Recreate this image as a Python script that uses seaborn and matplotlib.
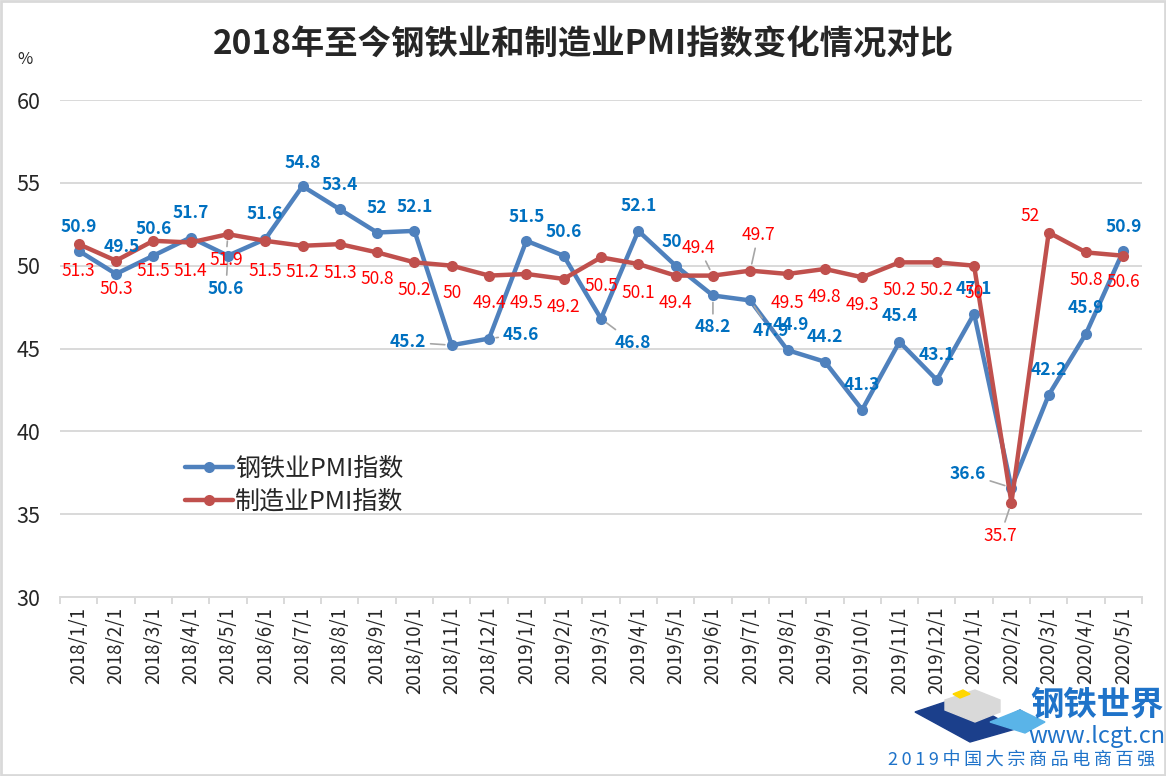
import numpy as np
import pandas as pd
import matplotlib.pyplot as plt
import seaborn as sns
from matplotlib.patches import Rectangle, Polygon

# data
months = ['2018/1/1', '2018/2/1', '2018/3/1', '2018/4/1', '2018/5/1', '2018/6/1',
          '2018/7/1', '2018/8/1', '2018/9/1', '2018/10/1', '2018/11/1', '2018/12/1',
          '2019/1/1', '2019/2/1', '2019/3/1', '2019/4/1', '2019/5/1', '2019/6/1',
          '2019/7/1', '2019/8/1', '2019/9/1', '2019/10/1', '2019/11/1', '2019/12/1',
          '2020/1/1', '2020/2/1', '2020/3/1', '2020/4/1', '2020/5/1']
steel_pmi = [50.9, 49.5, 50.6, 51.7, 50.6, 51.6, 54.8, 53.4, 52, 52.1, 45.2, 45.6,
             51.5, 50.6, 46.8, 52.1, 50, 48.2, 47.9, 44.9, 44.2, 41.3, 45.4, 43.1,
             47.1, 36.6, 42.2, 45.9, 50.9]
mfg_pmi = [51.3, 50.3, 51.5, 51.4, 51.9, 51.5, 51.2, 51.3, 50.8, 50.2, 50, 49.4,
           49.5, 49.2, 50.5, 50.1, 49.4, 49.4, 49.7, 49.5, 49.8, 49.3, 50.2, 50.2,
           50, 35.7, 52, 50.8, 50.6]
series_names = ['钢铁业PMI指数', '制造业PMI指数']

# label offsets in pixels (dx, dy)
steel_off = [(0, 24), (6, 27), (0, 27), (0, 25), (-2, -33), (0, 25), (0, 23), (0, 24),
             (0, 25), (0, 24), (-44, 3), (32, 4), (0, 24), (0, 24), (32, -24), (0, 25),
             (-4, 24), (0, -32), (21, -31), (3, 25), (0, 25), (0, 25), (0, 26), (0, 25),
             (0, 25), (-44, 14), (0, 25), (0, 26), (0, 24)]
mfg_off = [(0, -27), (0, -28), (0, -30), (0, -29), (-2, -26), (0, -30), (0, -26), (0, -29),
           (0, -27), (0, -28), (0, -27), (0, -27), (0, -29), (0, -28), (0, -29), (0, -29),
           (0, -27), (-14, 28), (8, 36), (0, -29), (0, -28), (0, -28), (0, -28), (0, -28),
           (0, -27), (-11, -33), (-19, 17), (0, -28), (0, -26)]
steel_leader = {4, 10, 11, 14, 17, 18, 25}
mfg_leader = {4, 17, 18, 25}

x = np.arange(len(months))
df = pd.DataFrame({
    'x': np.concatenate([x, x]),
    'value': steel_pmi + mfg_pmi,
    'series': [series_names[0]] * len(x) + [series_names[1]] * len(x),
})

sns.set_theme(style='white')
plt.rcParams['font.family'] = ['Noto Sans CJK SC', 'DejaVu Sans']

blue, red = '#4F81BD', '#C0504D'
fig = plt.figure(figsize=(11.66, 7.76), dpi=100)
ax = fig.add_axes([60 / 1166, 1 - 597 / 776, 1082 / 1166, 497 / 776])

sns.lineplot(data=df, x='x', y='value', hue='series', palette=[blue, red],
             marker='o', markersize=8, markeredgewidth=0, linewidth=3.2, ax=ax)

ax.set_xlim(-0.5, len(x) - 0.5)
ax.set_ylim(30, 60)
ax.set_yticks(range(30, 61, 5))
ax.yaxis.grid(True, color='#D9D9D9', lw=1.4)
ax.set_axisbelow(True)
for s in ['left', 'right', 'top']:
    ax.spines[s].set_visible(False)
ax.spines['bottom'].set_color('#D9D9D9')
ax.spines['bottom'].set_linewidth(1.4)
ax.set_xticks(x)
ax.set_xticklabels(months, rotation=90, fontsize=13.5)
ax.set_xticks(np.arange(-0.5, len(x), 1), minor=True)
ax.tick_params(axis='x', which='major', length=0, pad=7)
ax.tick_params(axis='x', which='minor', length=5, color='#D9D9D9', width=1.4, bottom=True)
ax.tick_params(axis='y', length=0, labelsize=15.5, pad=14)
ax.set_xlabel('')
ax.set_ylabel('')

leader = dict(arrowstyle='-', color='#A6A6A6', lw=1.2, shrinkA=1, shrinkB=5)
for i in x:
    ax.annotate(str(steel_pmi[i]), (i, steel_pmi[i]), xytext=steel_off[i],
                textcoords='offset pixels', ha='center', va='center',
                fontsize=12.5, fontweight='bold', color='#0070C0',
                arrowprops=leader if i in steel_leader else None)
    ax.annotate(str(mfg_pmi[i]), (i, mfg_pmi[i]), xytext=mfg_off[i],
                textcoords='offset pixels', ha='center', va='center',
                fontsize=12.5, color='#FF0000',
                arrowprops=leader if i in mfg_leader else None)

leg = ax.legend(loc='center left', bbox_to_anchor=(0.095, 0.225), frameon=False,
                fontsize=18, handlelength=1.9, handletextpad=0.1, labelspacing=0.25)

fig.text(0.5, 1 - 45 / 776, '2018年至今钢铁业和制造业PMI指数变化情况对比',
         ha='center', va='center', fontsize=24, fontweight='bold')
fig.text(25 / 1166, 1 - 60 / 776, '%', ha='center', va='center', fontsize=12)

# watermark logo
logo_blue = '#1F73C9'
fig.text(1097 / 1166, 1 - 705 / 776, '钢铁世界', ha='center', va='center',
         fontsize=24, fontweight='bold', color=logo_blue)
fig.text(1097 / 1166, 1 - 737 / 776, 'www.lcgt.cn', ha='center', va='center',
         fontsize=17, color=logo_blue)
fig.text(1022 / 1166, 1 - 760 / 776, '\u2009'.join('2019中国大宗商品电商百强'),
         ha='center', va='center', fontsize=13, color=logo_blue)

def px(pts):
    return [(a / 1166, 1 - b / 776) for a, b in pts]

fig.patches.append(Polygon(px([(915, 712), (960, 697), (1000, 720), (1020, 710), (1040, 722), (970, 742)]),
                           closed=True, color='#1B3F8B', transform=fig.transFigure))
fig.patches.append(Polygon(px([(990, 722), (1020, 710), (1045, 722), (1025, 733)]),
                           closed=True, color='#5AB4E8', transform=fig.transFigure))
fig.patches.append(Polygon(px([(945, 700), (975, 690), (1000, 700), (1000, 712), (975, 722), (945, 710)]),
                           closed=True, color='#D9D9D9', transform=fig.transFigure))
fig.patches.append(Polygon(px([(953, 694), (963, 690), (970, 694), (960, 698)]),
                           closed=True, color='#FFD700', transform=fig.transFigure))

fig.patches.append(Rectangle((0.001, 0.001), 0.998, 0.998, fill=False, edgecolor='#D9D9D9',
                             lw=2, transform=fig.transFigure))

fig.savefig('out.png', dpi=100, facecolor='white')
